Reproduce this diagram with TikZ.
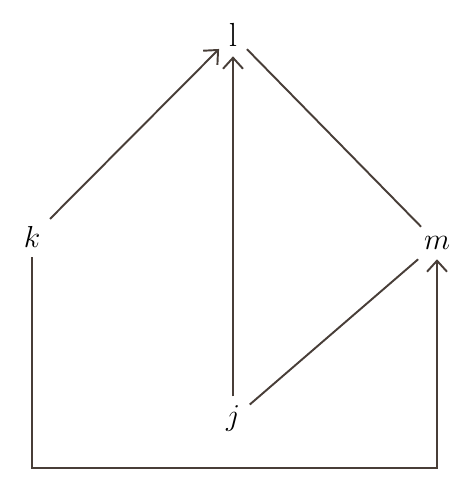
\documentclass[tikz,border=0pt]{standalone}
\usepackage{amsmath}
\usepackage{tikz}
\usetikzlibrary{arrows.meta}
\definecolor{edgebrown}{RGB}{72,62,56}

\begin{document}
\begin{tikzpicture}[every node/.style={inner sep=5pt, font=\fontsize{19}{21}\selectfont},
  line width=1.1pt, draw=edgebrown, >={Straight Barb[length=2.2mm,width=4mm]}]
  \useasboundingbox (0cm, 0cm) rectangle (9.48cm, 9.88cm);
  \node (l) at (4.66cm, 9.18cm) {l};
  \node (k) at (0.64cm, 5.14cm) {$k$};
  \node (m) at (8.74cm, 5.02cm) {$m$};
  \node (j) at (4.66cm, 1.5cm) {$j$};
  \coordinate (bl) at (0.64cm, 0.52cm);
  \coordinate (br) at (8.74cm, 0.52cm);
  \draw[->, edgebrown] (k) -- (l);
  \draw[->, edgebrown] (j) -- (l);
  \draw[edgebrown] (l) -- (m);
  \draw[edgebrown] (j) -- (m);
  \draw[->, edgebrown] (k) -- (bl) -- (br) -- (m);
\end{tikzpicture}
\end{document}
